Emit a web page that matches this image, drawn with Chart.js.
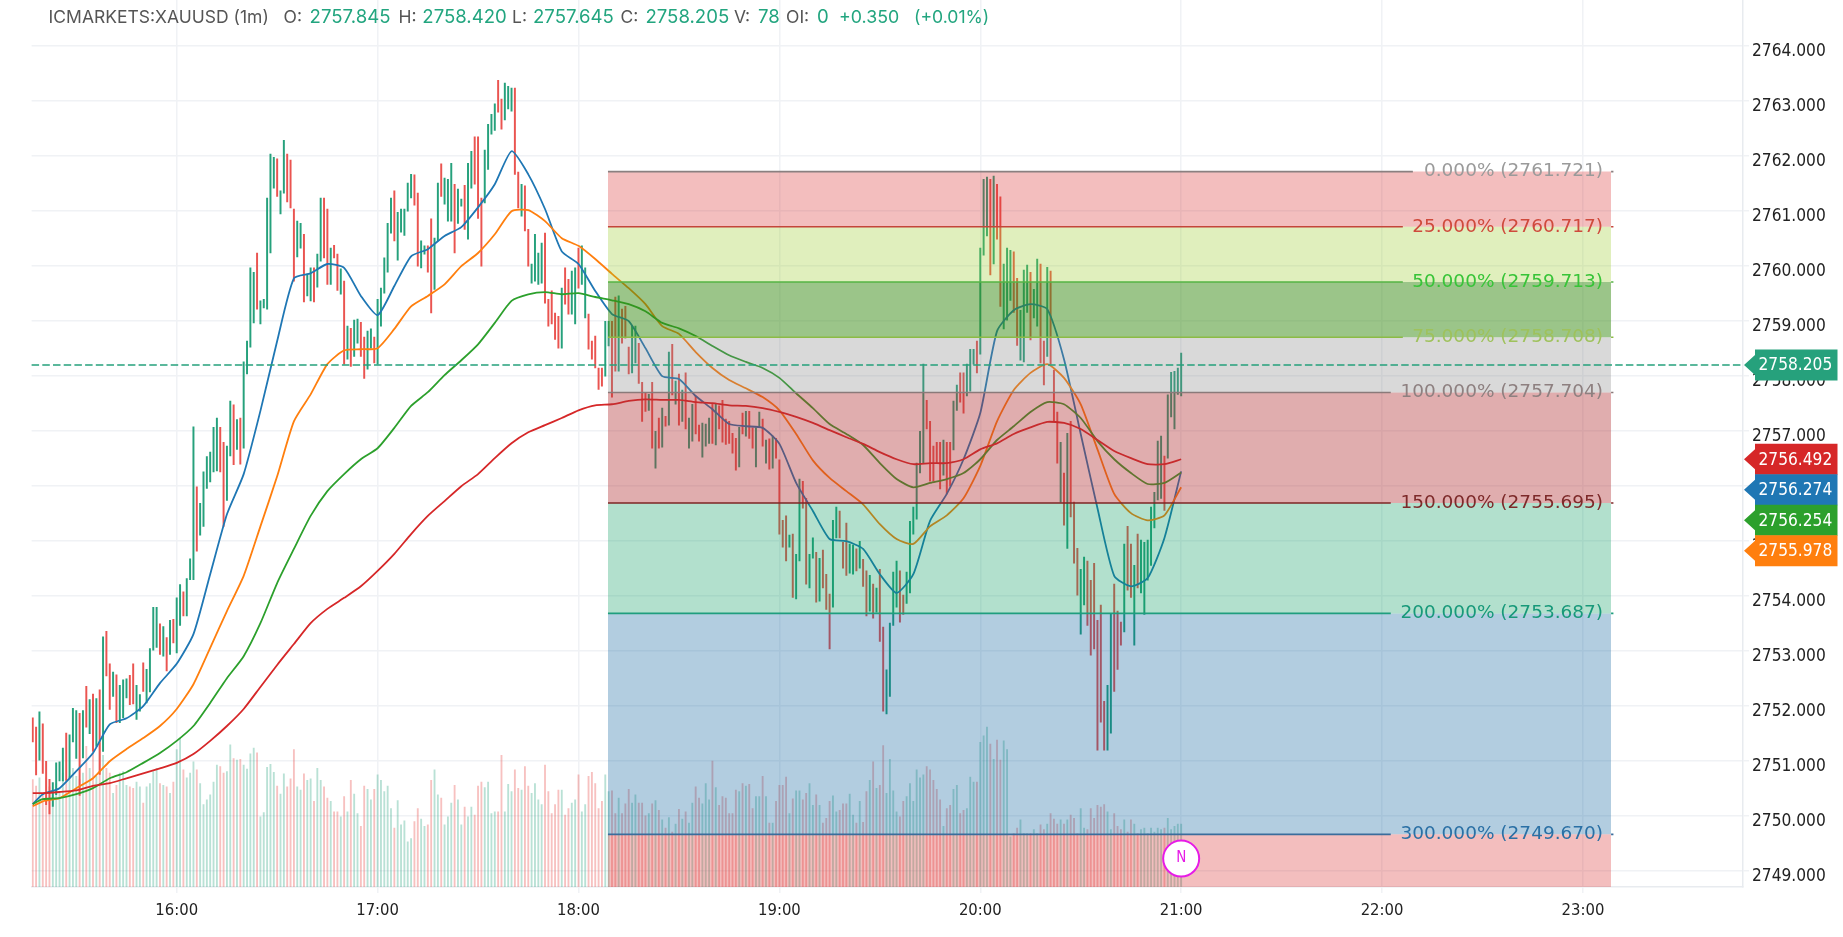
<!DOCTYPE html>
<html lang="en">
<head>
    <meta charset="UTF-8">
    <title>ICMARKETS:XAUUSD (1m)</title>
    <script src="https://cdn.jsdelivr.net/npm/chart.js"></script>
    <style>
        html, body { margin: 0; background: #fff; }
        canvas { display: block; }
    </style>
</head>
<body>
    <canvas id="chart" width="1843" height="937"></canvas>

    <script>
// first candle is 15:17, one candle per minute up to 21:00
const firstMinute = 917;

const highs = [
    2751.79,2751.62,2751.90,2751.68,2751.00,2750.67,2750.61,2750.97,2750.99,2751.24,
    2751.51,2751.48,2751.96,2751.92,2751.87,2751.92,2752.36,2752.12,2752.22,2752.14,
    2752.30,2753.26,2753.36,2752.77,2752.62,2752.57,2752.38,2752.48,2752.50,2752.56,
    2752.77,2752.38,2752.21,2752.79,2752.67,2753.05,2753.80,2753.80,2753.50,2753.45,
    2753.25,2753.56,2753.58,2753.97,2754.21,2754.08,2754.32,2754.68,2757.08,2755.99,
    2755.69,2756.26,2756.54,2756.62,2757.07,2757.24,2757.07,2756.80,2756.73,2757.55,
    2757.48,2757.21,2757.24,2758.26,2758.64,2759.97,2759.89,2760.24,2759.37,2759.40,
    2761.24,2762.04,2761.98,2761.95,2761.37,2762.29,2762.04,2761.93,2761.04,2760.82,
    2760.78,2760.58,2759.86,2759.97,2759.97,2760.22,2761.24,2761.24,2761.04,2760.33,
    2760.38,2760.22,2759.95,2759.73,2758.91,2758.87,2759.02,2759.04,2758.98,2758.71,
    2758.82,2758.86,2758.71,2759.40,2759.60,2760.15,2760.78,2761.24,2761.37,2760.98,
    2761.04,2761.04,2761.51,2761.67,2761.66,2761.33,2760.46,2760.37,2760.37,2760.86,
    2760.51,2761.51,2761.86,2761.60,2761.58,2761.87,2761.49,2761.40,2761.22,2761.47,
    2761.87,2762.09,2762.35,2762.35,2761.24,2762.11,2762.58,2762.76,2762.95,2763.38,
    2763.04,2763.33,2763.27,2763.24,2763.24,2761.71,2761.49,2761.46,2760.67,2760.04,
    2760.58,2760.24,2760.42,2760.60,2759.40,2759.55,2759.15,2759.09,2759.60,2759.97,
    2759.76,2759.91,2759.97,2760.33,2760.37,2759.97,2759.13,2758.64,2758.73,2758.15,
    2758.15,2759.00,2759.00,2759.00,2759.44,2759.46,2759.22,2759.27,2758.53,2758.91,
    2758.91,2758.60,2757.89,2757.69,2757.67,2757.89,2757.00,2757.24,2757.42,2757.27,
    2758.44,2758.58,2757.91,2758.04,2757.75,2758.06,2757.24,2757.49,2757.64,2757.11,
    2757.15,2757.13,2757.24,2757.49,2757.49,2757.46,2757.56,2757.22,2757.18,2756.96,
    2756.87,2757.07,2757.33,2757.36,2757.36,2757.06,2757.06,2757.35,2757.22,2756.84,
    2756.86,2756.91,2756.87,2756.48,2755.38,2755.46,2755.11,2755.13,2754.76,2756.13,
    2756.09,2755.78,2754.76,2755.06,2754.80,2754.69,2754.84,2754.40,2754.04,2755.38,
    2755.62,2755.55,2754.98,2755.33,2754.95,2754.93,2754.86,2755.00,2754.67,2754.46,
    2754.38,2754.22,2754.15,2754.49,2753.44,2752.66,2753.51,2754.44,2754.64,2754.46,
    2754.02,2754.44,2755.36,2755.62,2756.42,2757.00,2758.22,2757.56,2757.18,2756.73,
    2756.80,2756.80,2756.84,2756.80,2756.80,2757.55,2757.84,2758.06,2758.06,2758.22,
    2758.49,2758.49,2758.64,2760.33,2761.58,2761.62,2761.58,2761.64,2761.49,2761.26,
    2760.04,2760.33,2760.29,2760.26,2759.78,2759.20,2759.93,2760.02,2759.89,2759.58,
    2760.13,2760.04,2758.64,2759.98,2759.91,2758.11,2757.35,2756.80,2756.24,2756.96,
    2757.18,2755.71,2754.87,2754.49,2754.71,2754.64,2754.29,2754.60,2753.56,2753.84,
    2752.09,2752.38,2753.67,2754.22,2753.73,2753.53,2754.95,2755.27,2754.95,2754.56,
    2755.13,2755.02,2754.98,2755.02,2755.62,2755.89,2756.82,2756.91,2756.55,2757.66,
    2758.07,2758.09,2758.15,2758.42
];

const lows = [
    2751.35,2750.75,2751.02,2750.78,2750.21,2750.04,2750.18,2750.39,2750.64,2750.64,
    2750.65,2750.70,2751.35,2751.05,2750.38,2751.06,2751.62,2751.50,2751.18,2751.27,
    2750.76,2751.18,2752.55,2751.94,2752.18,2751.70,2751.70,2751.79,2752.15,2752.03,
    2752.04,2751.76,2751.91,2752.27,2752.06,2752.26,2753.02,2753.07,2752.94,2752.91,
    2752.64,2752.94,2753.15,2752.97,2753.47,2753.64,2753.64,2754.30,2754.30,2754.82,
    2755.11,2755.27,2755.96,2756.08,2756.26,2756.28,2756.26,2755.27,2755.74,2756.55,
    2756.39,2756.67,2756.40,2756.69,2758.04,2758.53,2758.97,2759.22,2758.95,2759.24,
    2759.22,2760.24,2761.42,2761.27,2760.95,2761.33,2761.17,2761.06,2759.73,2760.17,
    2760.33,2759.35,2759.46,2759.37,2759.35,2759.62,2760.09,2760.15,2759.67,2759.67,
    2760.15,2759.56,2759.49,2758.22,2758.31,2758.18,2758.36,2758.60,2758.36,2757.96,
    2758.13,2758.51,2758.24,2758.22,2758.91,2759.51,2759.89,2760.60,2760.46,2760.11,
    2760.62,2760.56,2761.00,2761.24,2761.11,2760.00,2759.97,2760.22,2759.89,2759.15,
    2759.58,2760.46,2761.27,2761.13,2760.82,2760.82,2760.24,2760.78,2761.09,2760.67,
    2760.49,2761.42,2761.49,2760.87,2760.00,2761.15,2761.76,2762.40,2762.47,2762.80,
    2762.49,2762.66,2762.86,2762.82,2761.67,2761.06,2760.91,2760.64,2760.00,2759.69,
    2759.73,2759.67,2759.69,2759.33,2758.91,2758.95,2758.67,2758.51,2758.51,2759.31,
    2759.13,2759.13,2758.95,2759.60,2759.67,2759.06,2758.49,2758.31,2758.15,2757.76,
    2757.82,2758.00,2758.55,2757.62,2758.09,2758.09,2758.60,2758.69,2758.04,2758.06,
    2758.24,2757.87,2757.18,2757.36,2757.38,2756.69,2756.33,2756.69,2756.71,2757.09,
    2757.11,2757.66,2757.49,2757.11,2757.18,2757.04,2756.69,2756.82,2756.95,2756.82,
    2756.53,2756.73,2756.78,2756.78,2756.75,2757.04,2756.80,2756.76,2756.78,2756.60,
    2756.29,2756.35,2756.95,2756.91,2756.87,2756.69,2756.35,2757.07,2756.73,2756.42,
    2756.31,2756.33,2756.51,2755.13,2754.89,2754.64,2754.89,2753.98,2753.95,2754.64,
    2755.60,2754.22,2754.15,2754.69,2753.89,2753.91,2754.15,2753.76,2753.04,2753.80,
    2755.06,2755.06,2754.51,2754.38,2754.42,2754.40,2754.46,2754.51,2754.18,2753.64,
    2753.73,2753.60,2753.71,2753.18,2751.91,2751.86,2752.18,2753.47,2753.80,2753.53,
    2753.67,2753.87,2754.06,2755.13,2755.40,2756.24,2756.42,2757.04,2756.09,2756.09,
    2756.42,2755.95,2756.20,2755.86,2756.00,2756.66,2757.38,2757.53,2757.33,2757.64,
    2757.73,2758.22,2758.06,2758.40,2760.20,2760.55,2759.84,2760.04,2760.49,2759.27,
    2758.86,2759.02,2759.38,2759.16,2758.56,2758.29,2758.26,2759.16,2758.66,2759.06,
    2758.91,2758.24,2757.84,2758.36,2758.22,2757.18,2756.42,2755.71,2755.29,2754.87,
    2755.44,2754.60,2754.02,2753.31,2753.84,2753.47,2752.93,2753.04,2751.20,2751.71,
    2751.20,2751.20,2751.51,2752.27,2752.67,2753.11,2753.35,2754.11,2753.98,2753.11,
    2754.15,2754.06,2753.67,2754.29,2754.56,2755.24,2755.75,2755.78,2755.56,2756.51,
    2757.26,2757.04,2757.67,2757.64
];

// 1 = up candle (green), 0 = down candle (red)
const candleUp = [
    0,0,1,0,0,0,1,1,1,1, 0,1,1,1,0,1,0,1,0,1, 0,1,0,0,1,0,1,1,1,0,
    0,1,1,0,1,1,1,1,0,1, 0,1,0,1,1,0,1,1,1,0, 1,1,1,1,1,1,0,0,1,1,
    0,1,0,1,1,1,1,0,1,1, 1,1,1,0,1,1,0,0,0,1, 1,0,1,1,0,1,1,0,0,1,
    0,0,1,0,1,0,1,1,0,0, 1,1,0,1,1,1,1,1,0,1, 1,1,1,1,0,0,1,1,0,0,
    1,1,0,1,1,1,0,1,1,0, 1,1,0,0,0,1,1,1,1,0, 0,1,1,1,0,0,1,0,0,1,
    1,1,1,0,0,0,0,0,1,0, 0,1,1,0,1,1,0,0,0,0, 0,1,1,0,0,1,0,0,0,1,
    1,0,0,0,1,0,1,0,1,0, 1,0,1,0,1,0,1,1,0,0, 1,1,1,0,1,0,0,0,0,0,
    0,1,0,1,0,0,1,1,0,1, 0,1,0,0,0,0,1,0,1,1, 0,0,1,1,0,1,0,0,0,1,
    1,0,0,0,1,1,0,1,0,0, 1,0,1,0,0,1,1,1,1,0, 0,1,1,1,1,1,1,0,0,0,
    0,0,1,0,0,1,1,0,0,1, 1,1,0,1,1,1,0,1,0,0, 1,1,1,0,0,1,1,1,0,1,
    1,0,0,1,0,0,0,1,0,1, 0,0,0,1,1,0,0,0,0,0, 0,1,1,0,0,0,1,0,0,1,
    0,1,1,1,1,1,1,1,0,1, 1,1,1,1
];

const volumes = [
    133,125,135,116,135,124,116,128,116,141, 133,137,147,137,133,141,174,147,166,137,
    178,163,147,141,116,126,141,143,126,124, 122,130,124,104,124,128,143,147,128,126,
    124,116,130,170,184,145,135,141,155,145, 128,102,108,114,130,151,149,141,143,176,
    159,157,158,151,146,165,172,166,87,92, 148,152,142,125,115,140,124,134,170,124,
    120,140,132,134,106,147,132,124,110,106, 93,93,87,112,93,132,115,91,75,125,
    121,108,121,139,132,118,125,97,73,107, 77,82,56,60,81,97,84,75,77,132,
    145,114,110,77,87,104,126,108,77,99, 87,99,89,125,130,123,130,91,93,93,
    163,93,127,118,145,122,120,149,125,116, 128,108,102,151,118,91,102,120,120,89,
    97,104,108,139,93,102,137,142,128,97, 106,139,118,
    119,91,110,91,103,121,104,114,104,104, 88,91,103,107,95,83,73,86,68,78,
    96,84,93,79,104,124,110,103,128,108, 156,123,101,112,110,91,91,120,118,128,
    125,127,97,112,112,137,112,79,79,106, 126,126,136,91,109,119,119,108,116,128,
    101,114,101,79,85,106,113,93,95,103, 103,115,89,79,106,80,118,132,155,122,
    126,175,116,158,119,93,87,106,112,128, 106,145,135,139,149,145,132,121,108,75,
    97,101,121,126,91,95,97,136,130,130, 179,187,198,177,158,182,157,181,170,62,
    66,73,83,66,66,66,71,66,77,71, 78,91,84,78,83,78,83,89,85,66,
    97,73,71,97,85,101,99,102,93,71, 91,75,71,83,68,83,78,66,71,73,
    66,73,68,73,71,73,85,71,75,78, 78
];

// moving averages, read every five minutes
const maMinutes = [917,920,925,930,935,940,945,950,955,960,965,970,975,980,985,990,995,1000,1005,1010,
    1015,1020,1025,1030,1035,1040,1045,1050,1055,1060,1065,1070,1075,1080,1085,1090,1095,1100,1105,1110,
    1115,1120,1125,1130,1135,1140,1145,1150,1155,1160,1165,1170,1175,1180,1185,1190,1195,1200,1205,1210,
    1215,1220,1225,1230,1235,1240,1245,1250,1255,1260];

const maBlue = [2750.22,2750.40,2750.51,2750.82,2751.15,2751.67,2751.78,2752.00,2752.42,2752.77,
    2753.31,2754.40,2755.49,2756.22,2757.37,2758.64,2759.78,2759.87,2760.04,2759.97,
    2759.46,2759.11,2759.64,2760.18,2760.31,2760.55,2760.71,2761.07,2761.49,2762.09,
    2761.67,2761.04,2760.27,2760.04,2759.55,2759.13,2759.00,2758.51,2758.00,2757.95,
    2757.64,2757.40,2757.13,2757.09,2757.06,2756.77,2756.06,2755.55,2755.04,2755.00,
    2754.86,2754.40,2754.06,2754.40,2755.37,2755.86,2756.49,2757.33,2758.82,2759.20,
    2759.31,2759.22,2758.31,2756.95,2755.60,2754.37,2754.18,2754.33,2755.06,2756.27];

const maOrange = [2750.18,2750.27,2750.33,2750.51,2750.69,2751.00,2751.22,2751.42,2751.64,2751.95,
    2752.40,2753.06,2753.73,2754.37,2755.27,2756.18,2757.18,2757.67,2758.22,2758.47,
    2758.49,2758.51,2758.86,2759.27,2759.46,2759.67,2760.00,2760.24,2760.58,2761.00,
    2761.02,2760.82,2760.51,2760.37,2760.13,2759.86,2759.60,2759.31,2758.91,2758.77,
    2758.44,2758.15,2757.93,2757.78,2757.62,2757.38,2756.95,2756.47,2756.15,2755.91,
    2755.67,2755.31,2755.04,2754.95,2755.27,2755.47,2755.78,2756.37,2757.18,2757.75,
    2758.06,2758.22,2757.97,2757.49,2756.67,2755.86,2755.51,2755.38,2755.47,2755.98];

const maGreen = [2750.22,2750.31,2750.33,2750.40,2750.51,2750.69,2750.80,2750.97,2751.15,2751.37,
    2751.64,2752.06,2752.51,2752.91,2753.51,2754.24,2754.86,2755.46,2755.91,2756.22,
    2756.49,2756.69,2757.06,2757.46,2757.71,2758.02,2758.29,2758.58,2758.97,2759.37,
    2759.49,2759.53,2759.49,2759.51,2759.44,2759.38,2759.31,2759.18,2758.97,2758.87,
    2758.73,2758.55,2758.38,2758.26,2758.15,2757.97,2757.69,2757.42,2757.13,2756.95,
    2756.75,2756.42,2756.13,2755.98,2756.06,2756.13,2756.24,2756.49,2756.84,2757.09,
    2757.35,2757.53,2757.49,2757.24,2756.82,2756.49,2756.24,2756.04,2756.06,2756.25];

const maRed = [2750.42,2750.42,2750.44,2750.47,2750.55,2750.60,2750.69,2750.78,2750.87,2750.97,
    2751.13,2751.37,2751.64,2751.95,2752.35,2752.75,2753.13,2753.51,2753.77,2753.97,
    2754.18,2754.46,2754.77,2755.13,2755.46,2755.73,2756.00,2756.22,2756.51,2756.78,
    2756.98,2757.11,2757.24,2757.38,2757.47,2757.49,2757.55,2757.58,2757.57,2757.57,
    2757.53,2757.51,2757.47,2757.46,2757.42,2757.35,2757.26,2757.15,2757.02,2756.89,
    2756.77,2756.62,2756.49,2756.40,2756.42,2756.42,2756.49,2756.67,2756.78,2756.95,
    2757.07,2757.17,2757.15,2757.04,2756.84,2756.64,2756.51,2756.40,2756.40,2756.49];

// fib tool
const fibPercents = ['0.000%','25.000%','50.000%','75.000%','100.000%','150.000%','200.000%','300.000%'];
const fibLevels = [2761.721,2760.717,2759.713,2758.708,2757.704,2755.695,2753.687,2749.670];
const fibStart = 1088.8, fibEnd = 1388.4;
const fibLineStops = [1329.2,1326.2,1326.2,1326.2,1322.6,1322.6,1322.6,1322.6];
const fibFills = ['rgba(214,39,40,.3)','rgba(152,202,35,.3)','rgba(55,139,19,.5)','rgba(128,128,128,.3)',
    'rgba(177,50,52,.4)','rgba(0,152,88,.3)','rgba(0,88,152,.3)','rgba(214,39,40,.3)'];
const fibLineColors = ['#8a8080','#c4453a','#55b545','#8cbb45','#8a7a7a','#7f2626','#1f9e7e','#3a6d9c'];
const fibTextColors = ['#9a9a9a','#cf4a3c','#38c438','#9fc25c','#8e8080','#7d2a2a','#17997a','#2a70a5'];

const xTickMinutes = [960,1020,1080,1140,1200,1260,1320,1380];
const xTickLabels = ['16:00','17:00','18:00','19:00','20:00','21:00','22:00','23:00'];
const yTicks = [2749,2750,2751,2752,2753,2754,2755,2756,2757,2758,2759,2760,2761,2762,2763,2764];

const lastPrice = 2758.205;
const maTags = [
    { value: 2756.492, color: '#d62728' },
    { value: 2756.274, color: '#1f77b4' },
    { value: 2756.254, color: '#2ca02c' },
    { value: 2755.978, color: '#ff7f0e' }
];

const headerParts = [
    ['ICMARKETS:XAUUSD (1m)', 48.6, 17.5], ['O:', 283.5, 17.5], ['2757.845', 309.6, 18.6], ['H:', 398.6, 17.5], ['2758.420', 422.3, 18.6],
    ['L:', 512, 17.5], ['2757.645', 533, 18.6], ['C:', 620.5, 17.5], ['2758.205', 645.4, 18.6], ['V:', 734, 17.5], ['78', 758, 18.6],
    ['OI:', 786, 17.5], ['0', 817, 18.6], ['+0.350', 839, 17.8], ['(+0.01%)', 914, 17.6]
];

const newsMark = { minute: 1260, price: 2749.23 };

const Y_MIN = 2748.713, Y_MAX = 2764.84;
const GREEN = '#26a17c', RED = '#ea5450';
const AXIS_FONT = '"DejaVu Sans Condensed", "DejaVu Sans", sans-serif';

const candleData = highs.map((h, i) => ({ x: firstMinute + i, y: [lows[i], h] }));
const volumeData = volumes.map((v, i) => ({ x: firstMinute + i, y: v }));

function maDataset(values, color) {
    return {
        type: 'line', order: 5, yAxisID: 'y',
        data: values.map((v, i) => ({ x: maMinutes[i], y: v })),
        borderColor: color, borderWidth: 1.8, pointRadius: 0, tension: 0.2, fill: false
    };
}

const bandDatasets = fibLevels.map((lvl, i) => ({
    type: 'line', order: 3, yAxisID: 'y',
    data: [{ x: fibStart, y: lvl }, { x: fibEnd, y: lvl }],
    borderWidth: 0, pointRadius: 0,
    backgroundColor: fibFills[i],
    fill: { value: i + 1 < fibLevels.length ? fibLevels[i + 1] : Y_MIN }
}));

const lineDatasets = fibLevels.map((lvl, i) => ({
    type: 'line', order: 2, yAxisID: 'y',
    data: [{ x: fibStart, y: lvl }, { x: fibLineStops[i], y: lvl }, { x: fibLineStops[i] + 1, y: null },
           { x: fibEnd, y: lvl }, { x: fibEnd + 0.7, y: lvl }],
    borderColor: fibLineColors[i], borderWidth: 1.7, pointRadius: 0, fill: false, spanGaps: false
}));

// text and tags that sit on top of the chart
const overlayPlugin = {
    id: 'overlay',
    afterDraw(chart) {
        const ctx = chart.ctx, x = chart.scales.x, y = chart.scales.y;
        ctx.save();

        // price line
        ctx.strokeStyle = GREEN;
        ctx.lineWidth = 1.5;
        ctx.setLineDash([7.5, 3.2]);
        ctx.beginPath();
        ctx.moveTo(chart.chartArea.left, y.getPixelForValue(lastPrice));
        ctx.lineTo(chart.chartArea.right, y.getPixelForValue(lastPrice));
        ctx.stroke();
        ctx.setLineDash([]);

        // fib labels
        ctx.font = '18.5px "DejaVu Sans", sans-serif';
        ctx.textAlign = 'right';
        ctx.textBaseline = 'middle';
        fibLevels.forEach((lvl, i) => {
            ctx.fillStyle = fibTextColors[i];
            ctx.fillText(fibPercents[i] + ' (' + lvl.toFixed(3) + ')', x.getPixelForValue(fibEnd) - 8, y.getPixelForValue(lvl));
        });

        // news mark
        const nx = x.getPixelForValue(newsMark.minute), ny = y.getPixelForValue(newsMark.price);
        ctx.beginPath();
        ctx.arc(nx, ny, 18, 0, Math.PI * 2);
        ctx.fillStyle = '#fff';
        ctx.fill();
        ctx.strokeStyle = '#e61be6';
        ctx.lineWidth = 2;
        ctx.stroke();
        ctx.fillStyle = '#e61be6';
        ctx.font = '15px ' + AXIS_FONT;
        ctx.textAlign = 'center';
        ctx.fillText('N', nx, ny);

        // price tags, stacked so they don't overlap
        drawTag(ctx, y.getPixelForValue(lastPrice), lastPrice, GREEN, chart.chartArea.right);
        let prev = -100;
        maTags.forEach(t => {
            const ty = Math.max(y.getPixelForValue(t.value), prev + 30.5);
            drawTag(ctx, ty, t.value, t.color, chart.chartArea.right);
            prev = ty;
        });

        // header
        ctx.textAlign = 'left';
        ctx.textBaseline = 'alphabetic';
        headerParts.forEach((p, i) => {
            ctx.font = p[2] + 'px Inter, sans-serif';
            ctx.fillStyle = /\d/.test(p[0]) && i > 0 ? '#22a57f' : '#555';
            ctx.fillText(p[0], p[1], 23);
        });
        ctx.restore();
    }
};

function drawTag(ctx, cy, value, color, left) {
    ctx.fillStyle = color;
    ctx.beginPath();
    ctx.moveTo(left + 1, cy);
    ctx.lineTo(left + 12, cy - 10);
    ctx.lineTo(left + 12, cy - 15.5);
    ctx.lineTo(left + 94.5, cy - 15.5);
    ctx.lineTo(left + 94.5, cy + 15.5);
    ctx.lineTo(left + 12, cy + 15.5);
    ctx.lineTo(left + 12, cy + 10);
    ctx.closePath();
    ctx.fill();
    ctx.fillStyle = '#fff';
    ctx.font = '17.2px ' + AXIS_FONT;
    ctx.textAlign = 'left';
    ctx.textBaseline = 'middle';
    ctx.fillText(value.toFixed(3), left + 15.5, cy + 1);
}

new Chart(document.getElementById('chart').getContext('2d'), {
    type: 'bar',
    data: {
        datasets: [
            {
                order: 7, yAxisID: 'yv', grouped: false, barThickness: 1.2,
                data: volumeData,
                backgroundColor: volumes.map((v, i) => candleUp[i] ? 'rgba(38,161,124,.32)' : 'rgba(234,84,80,.36)')
            },
            {
                order: 6, yAxisID: 'y', grouped: false, barThickness: 1.3,
                data: candleData,
                backgroundColor: highs.map((v, i) => candleUp[i] ? GREEN : RED)
            },
            maDataset(maRed, '#d62728'),
            maDataset(maGreen, '#2ca02c'),
            maDataset(maOrange, '#ff7f0e'),
            maDataset(maBlue, '#1f77b4'),
            ...bandDatasets,
            ...lineDatasets
        ]
    },
    options: {
        responsive: false,
        animation: false,
        layout: { padding: { left: 31.6 } },
        plugins: { legend: { display: false }, tooltip: { enabled: false } },
        scales: {
            x: {
                type: 'linear', min: 916.66, max: 1427.8, offset: false,
                afterBuildTicks: axis => { axis.ticks = xTickMinutes.map(v => ({ value: v })); },
                afterFit: axis => { axis.height = 50; },
                grid: { color: '#f0f2f5', lineWidth: 1.5, tickLength: 6, offset: false },
                border: { color: '#e8ebef', width: 1.5 },
                ticks: {
                    maxRotation: 0, autoSkip: false, padding: 8, color: '#222',
                    font: { family: AXIS_FONT, size: 16.5 },
                    callback: v => xTickLabels[xTickMinutes.indexOf(v)]
                }
            },
            y: {
                position: 'right', min: Y_MIN, max: Y_MAX,
                afterBuildTicks: axis => { axis.ticks = yTicks.map(v => ({ value: v })); },
                // no label padding, the plot runs right up to the top of the page
                afterFit: axis => { axis.width = 100; axis.paddingTop = 0; axis.paddingBottom = 0; },
                grid: { color: '#f0f2f5', lineWidth: 1.5, tickLength: 6 },
                border: { color: '#e8ebef', width: 1.5 },
                ticks: {
                    padding: 3, color: '#222', autoSkip: false, labelOffset: 5,
                    font: { family: AXIS_FONT, size: 17.2 },
                    callback: v => v.toFixed(3)
                }
            },
            yv: { display: false, min: 0, max: 1098 }
        }
    },
    plugins: [overlayPlugin]
});
    </script>
</body>
</html>
